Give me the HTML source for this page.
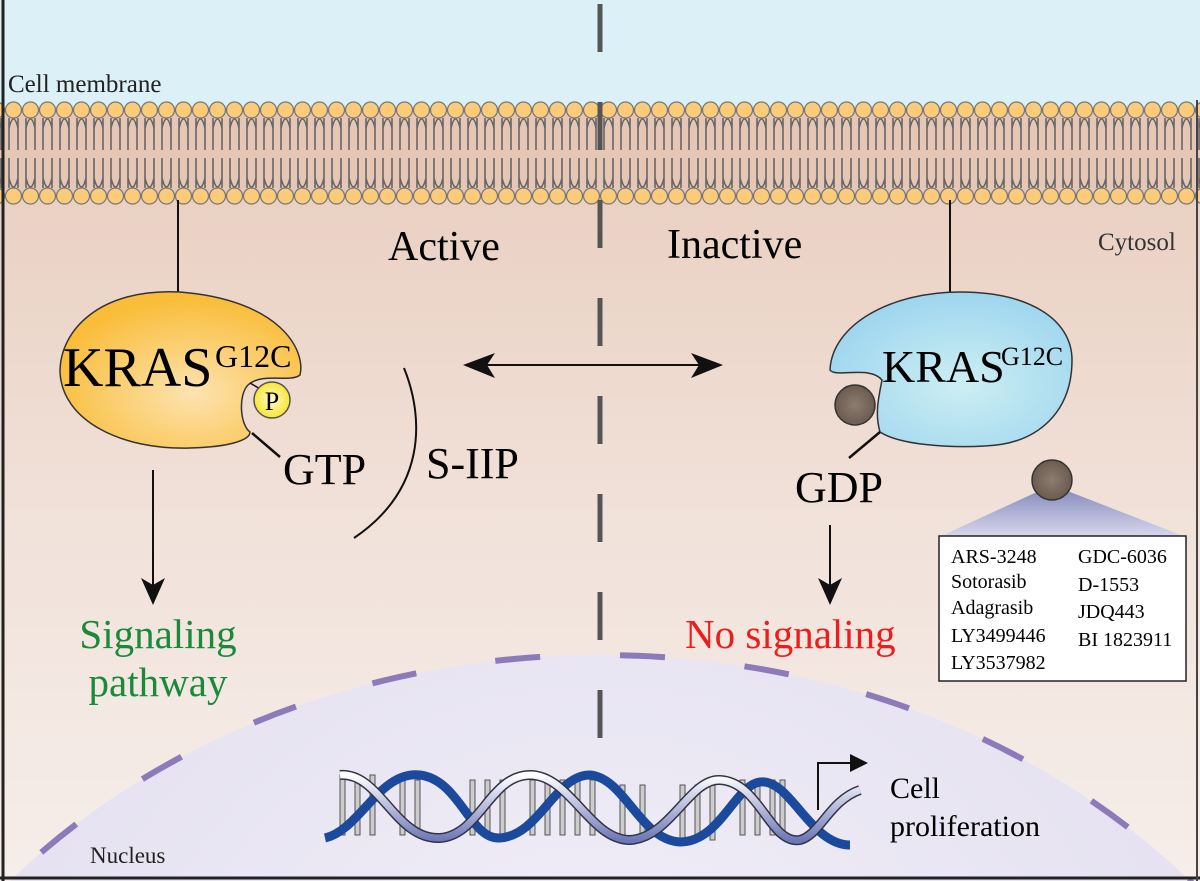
<!DOCTYPE html>
<html><head><meta charset="utf-8"><style>
html,body{margin:0;padding:0;background:#fff;width:1200px;height:881px;overflow:hidden}
svg{display:block;font-family:"Liberation Serif",serif}
</style></head><body>
<svg width="1200" height="881" viewBox="0 0 1200 881" xmlns="http://www.w3.org/2000/svg">
<defs>
<linearGradient id="cyt" x1="0" y1="0" x2="0" y2="1">
<stop offset="0" stop-color="#e6c6b5"/><stop offset="0.6" stop-color="#f1e2da"/><stop offset="1" stop-color="#f6eeea"/>
</linearGradient>
<radialGradient id="nuc" cx="0.5" cy="0.3" r="0.8">
<stop offset="0" stop-color="#f2f0f8"/><stop offset="1" stop-color="#d9d3ea"/>
</radialGradient>
<radialGradient id="yel" cx="0.55" cy="0.65" r="0.6">
<stop offset="0" stop-color="#fde3b0"/><stop offset="1" stop-color="#f9bd3a"/>
</radialGradient>
<radialGradient id="blu" cx="0.55" cy="0.6" r="0.6">
<stop offset="0" stop-color="#cdeef2"/><stop offset="1" stop-color="#9ed6ef"/>
</radialGradient>
<radialGradient id="brn" cx="0.5" cy="0.5" r="0.5">
<stop offset="0" stop-color="#8d7c70"/><stop offset="1" stop-color="#6b5b50"/>
</radialGradient>
<radialGradient id="pg" cx="0.5" cy="0.5" r="0.5">
<stop offset="0" stop-color="#fffbd0"/><stop offset="1" stop-color="#f7e632"/>
</radialGradient>
<linearGradient id="tri" x1="0" y1="0" x2="0" y2="1">
<stop offset="0" stop-color="#7f86b8"/><stop offset="1" stop-color="#d8d8ec"/>
</linearGradient>
<pattern id="tails" x="5" y="0" width="17" height="881" patternUnits="userSpaceOnUse">
<path d="M4,118 L4,150 M13,118 L13,150 M4,128 Q8.5,110 13,128" fill="none" stroke="#666" stroke-width="1.6"/>
<path d="M4,158 L4,188 M13,158 L13,188 M4,178 Q8.5,196 13,178" fill="none" stroke="#666" stroke-width="1.6"/>
</pattern>
<pattern id="heads" x="5" y="0" width="17" height="881" patternUnits="userSpaceOnUse">
<circle cx="8.5" cy="110" r="8" fill="#fccb7a" stroke="#777" stroke-width="1.3"/>
<circle cx="8.5" cy="196" r="8" fill="#fccb7a" stroke="#777" stroke-width="1.3"/>
</pattern>
<linearGradient id="rib" x1="0" y1="0" x2="0" y2="1">
<stop offset="0" stop-color="#ffffff"/><stop offset="1" stop-color="#6c78b8"/>
</linearGradient>
</defs>
<rect width="1200" height="881" fill="url(#cyt)"/>
<rect width="1200" height="108" fill="#dcf0f7"/>
<rect y="108" width="1200" height="90" fill="#e6c6b5"/>
<rect y="100" width="1200" height="110" fill="url(#tails)"/>
<rect y="90" width="1200" height="120" fill="url(#heads)"/>
<ellipse cx="600" cy="1300" rx="776" ry="645" fill="url(#nuc)"/>
<ellipse cx="600" cy="1300" rx="776" ry="645" fill="none" stroke="#8d7ab8" stroke-width="6" stroke-dasharray="45 80"/>
<line x1="600" y1="0" x2="600" y2="740" stroke="#555" stroke-width="5" stroke-dasharray="48 50" stroke-dashoffset="-4"/>
<g>
<g stroke="#555" stroke-width="1" fill="#ccc">
<rect x="340" y="775" width="5" height="60"/><rect x="355" y="775" width="5" height="60"/><rect x="370" y="775" width="5" height="60"/>
<rect x="400" y="780" width="5" height="55"/><rect x="415" y="780" width="5" height="55"/><rect x="470" y="780" width="5" height="55"/><rect x="485" y="780" width="5" height="55"/><rect x="500" y="780" width="5" height="55"/>
<rect x="530" y="780" width="5" height="55"/><rect x="545" y="780" width="5" height="55"/><rect x="560" y="780" width="5" height="55"/><rect x="575" y="780" width="5" height="55"/><rect x="590" y="780" width="5" height="55"/>
<rect x="620" y="785" width="5" height="55"/><rect x="640" y="785" width="5" height="55"/><rect x="680" y="785" width="5" height="55"/><rect x="695" y="785" width="5" height="55"/><rect x="710" y="785" width="5" height="55"/>
<rect x="740" y="780" width="5" height="55"/><rect x="755" y="780" width="5" height="55"/><rect x="770" y="780" width="5" height="55"/><rect x="780" y="780" width="5" height="55"/>
</g>
<path d="M325,838 C360,830 380,770 420,775 C460,780 470,840 500,838 C540,835 555,775 590,775 C625,778 640,840 680,842 C720,842 735,785 760,782 C790,778 810,845 850,845" fill="none" stroke="#1b4a9c" stroke-width="9"/>
<path d="M340,775 C380,772 395,840 440,838 C480,835 490,775 530,775 C570,775 590,840 630,840 C670,838 690,778 720,780 C760,782 770,845 800,840 C820,835 830,800 860,790" fill="none" stroke="#334" stroke-width="10"/>
<path d="M340,775 C380,772 395,840 440,838 C480,835 490,775 530,775 C570,775 590,840 630,840 C670,838 690,778 720,780 C760,782 770,845 800,840 C820,835 830,800 860,790" fill="none" stroke="url(#rib)" stroke-width="7"/>
<path d="M818,810 L818,763 L852,763" fill="none" stroke="#111" stroke-width="2"/>
<polygon points="850,754 868,763 850,772" fill="#111"/>
</g>
<line x1="178" y1="200" x2="178" y2="292" stroke="#111" stroke-width="2"/>
<path d="M300,375 C306,350 280,300 180,292 C100,288 60,330 60,372 C62,420 120,450 190,448 C230,447 250,440 250,432 C240,425 238,395 248,385 C262,372 290,383 300,375 Z" fill="url(#yel)" stroke="#333" stroke-width="1.5"/>
<line x1="252" y1="433" x2="280" y2="457" stroke="#111" stroke-width="2.5"/>
<line x1="250" y1="383" x2="262" y2="390" stroke="#111" stroke-width="1.5"/>
<circle cx="272" cy="400" r="18" fill="url(#pg)" stroke="#555" stroke-width="1.5"/>
<text x="272" y="410" font-size="26" text-anchor="middle">P</text>
<text x="63" y="386" font-size="56">KRAS</text>
<text x="215" y="367" font-size="32">G12C</text>
<text x="283" y="484" font-size="44">GTP</text>
<line x1="153" y1="470" x2="153" y2="585" stroke="#111" stroke-width="2"/>
<polygon points="141,578 153,605 165,578 153,585" fill="#111"/>
<text x="158" y="648" font-size="41" fill="#1a8a3a" text-anchor="middle">Signaling</text>
<text x="158" y="696" font-size="41" fill="#1a8a3a" text-anchor="middle">pathway</text>
<text x="388" y="260" font-size="42">Active</text>
<text x="667" y="258" font-size="42">Inactive</text>
<text x="1098" y="250" font-size="25" fill="#333">Cytosol</text>
<text x="8" y="92" font-size="25" fill="#222">Cell membrane</text>
<line x1="475" y1="365" x2="712" y2="365" stroke="#111" stroke-width="2"/>
<polygon points="463,365 495,353 487,365 495,378" fill="#111"/>
<polygon points="723,365 691,353 699,365 691,378" fill="#111"/>
<path d="M404,368 C425,420 425,490 354,538" fill="none" stroke="#111" stroke-width="2"/>
<text x="426" y="478" font-size="44">S-IIP</text>
<line x1="950" y1="200" x2="950" y2="292" stroke="#111" stroke-width="2"/>
<path d="M1072,360 C1072,320 1030,292 960,292 C890,292 832,325 830,370 C835,378 870,365 882,380 C878,400 875,415 880,432 C900,445 950,448 985,446 C1040,444 1072,410 1072,360 Z" fill="url(#blu)" stroke="#333" stroke-width="1.5"/>
<line x1="880" y1="432" x2="849" y2="458" stroke="#111" stroke-width="2.5"/>
<line x1="873" y1="396" x2="862" y2="400" stroke="#111" stroke-width="1.5"/>
<circle cx="855" cy="405" r="20" fill="url(#brn)" stroke="#333" stroke-width="1.5"/>
<text x="882" y="382" font-size="46">KRAS</text>
<text x="1001" y="365" font-size="26">G12C</text>
<text x="795" y="502" font-size="44">GDP</text>
<line x1="830" y1="525" x2="830" y2="585" stroke="#111" stroke-width="2"/>
<polygon points="818,578 830,605 842,578 830,585" fill="#111"/>
<text x="685" y="648" font-size="41" fill="#ee1c1c">No signaling</text>
<polygon points="1052,485 939,537 1186,537" fill="url(#tri)"/>
<circle cx="1052" cy="480" r="20" fill="url(#brn)" stroke="#333" stroke-width="1.5"/>
<rect x="939" y="536" width="247" height="145" fill="#fff" stroke="#222" stroke-width="1.5"/>
<g font-size="20">
<text x="951" y="563">ARS-3248</text><text x="951" y="588">Sotorasib</text><text x="951" y="614">Adagrasib</text><text x="951" y="642">LY3499446</text><text x="951" y="669">LY3537982</text>
<text x="1078" y="563">GDC-6036</text><text x="1078" y="591">D-1553</text><text x="1078" y="618">JDQ443</text><text x="1078" y="646">BI 1823911</text>
</g>
<text x="890" y="798" font-size="30">Cell</text>
<text x="890" y="836" font-size="30">proliferation</text>
<text x="90" y="863" font-size="23" fill="#222">Nucleus</text>
<line x1="3" y1="0" x2="3" y2="881" stroke="#222" stroke-width="3"/>
<line x1="0" y1="878" x2="1200" y2="878" stroke="#222" stroke-width="3"/>
<line x1="1197" y1="100" x2="1197" y2="881" stroke="#444" stroke-width="2"/>
</svg>
</body></html>
